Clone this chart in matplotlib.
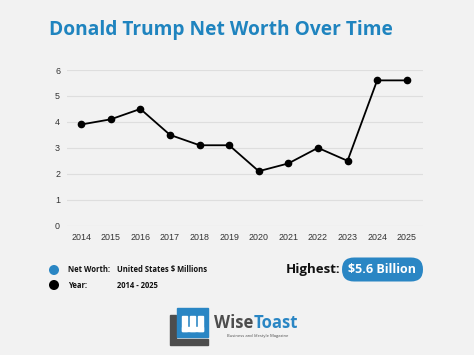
import matplotlib.pyplot as plt
from matplotlib.patches import FancyBboxPatch, Rectangle, Polygon, Circle

years = [2014, 2015, 2016, 2017, 2018, 2019, 2020, 2021, 2022, 2023, 2024, 2025]
net_worth = [3.9, 4.1, 4.5, 3.5, 3.1, 3.1, 2.1, 2.4, 3.0, 2.5, 5.6, 5.6]
y_ticks = [0, 1, 2, 3, 4, 5, 6]

title = "Donald Trump Net Worth Over Time"
legend_rows = [("Net Worth:", "United States $ Millions", "#2a86c4"),
               ("Year:", "2014 - 2025", "#000000")]
highest_label = "Highest:"
highest_value = "$5.6 Billion"

bg = "#f2f2f2"
blue = "#1f84bf"

fig = plt.figure(figsize=(4.74, 3.55), dpi=100, facecolor=bg)

# main chart
ax = fig.add_axes([67 / 474, 1 - 225.7 / 355, 356 / 474, 155.7 / 355])
ax.set_facecolor(bg)
ax.plot(years, net_worth, color="black", lw=1.3, marker="o", ms=4.5,
        clip_on=False, zorder=3)
ax.set_xlim(2013.52, 2025.55)
ax.set_ylim(0, 6)
ax.set_xticks(years)
ax.set_yticks(y_ticks)
ax.tick_params(length=0, labelsize=6.4, labelcolor="#333333", pad=5)
for lab in ax.get_xticklabels() + ax.get_yticklabels():
    lab.set_family("Liberation Sans")
ax.grid(axis="y", color="#dedede", lw=0.8)
ax.set_axisbelow(True)
for s in ax.spines.values():
    s.set_visible(False)

# overlay in pixel coordinates
ov = fig.add_axes([0, 0, 1, 1], facecolor="none")
ov.set_xlim(0, 474)
ov.set_ylim(355, 0)
ov.axis("off")

ov.text(221, 30, title, color=blue, fontsize=13.8, fontweight="bold",
        family="Open Sans", ha="center", va="center")

for i, (k, v, c) in enumerate(legend_rows):
    y = 270 + i * 15
    ov.add_patch(Circle((54, y), 4.3, color=c))
    ov.text(68, y, k, fontsize=5.5, fontweight="bold", family="Open Sans",
            va="center", ha="left", color="#111111")
    ov.text(117, y, v, fontsize=5.5, fontweight="bold", family="Open Sans",
            va="center", ha="left", color="#111111")

ov.text(340, 269, highest_label, fontsize=9.5, fontweight="bold",
        family="Open Sans", ha="right", va="center", color="#111111")
ov.add_patch(FancyBboxPatch((342, 257.5), 81, 24, boxstyle="round,pad=0,rounding_size=12",
                            fc="#2a86c4", ec="none"))
ov.text(382.5, 269.5, highest_value, fontsize=9, fontweight="bold",
        family="Open Sans", ha="center", va="center", color="white")

# logo
ov.add_patch(Polygon([(170.5, 315), (176, 315), (176, 339), (208, 339), (208, 345),
                      (170.5, 345)], closed=True, color="#4d4d4d"))
ov.add_patch(Rectangle((177, 308), 31, 29, color="#2a86c4"))
for bx in [182, 190, 198]:
    ov.add_patch(Rectangle((bx, 316), 5, 15, color="white"))
ov.add_patch(Rectangle((182, 327), 21, 4, color="white"))
wise = ov.text(214, 323, "Wise", fontsize=12, fontweight="bold", family="Open Sans",
               color="#4d4d4d", ha="left", va="center")
ov.annotate("Toast", xy=(1, 0.5), xycoords=wise, fontsize=12, fontweight="bold",
            family="Open Sans", color="#2a86c4", ha="left", va="center")
ov.text(258, 336, "Business and lifestyle Magazine", fontsize=3,
        family="Open Sans", color="#4d4d4d", ha="center", va="center")

fig.savefig("out.png", dpi=100, facecolor=bg)
